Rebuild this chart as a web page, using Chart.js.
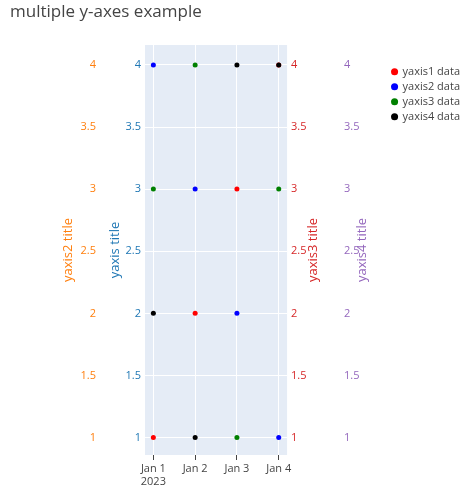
<!DOCTYPE html>
<html>
<head>
<meta charset="utf-8">
<script src="https://cdn.jsdelivr.net/npm/chart.js@4/dist/chart.umd.min.js"></script>
<style>
  html, body { margin: 0; padding: 0; background: #fff; }
  #wrap { width: 474px; height: 490px; }
</style>
</head>
<body>
<div id="wrap"><canvas id="chart"></canvas></div>
<script>
"use strict";

const dates = ['Jan 1', 'Jan 2', 'Jan 3', 'Jan 4'];
const yaxis1Data = [1, 2, 3, 4];
const yaxis2Data = [4, 3, 2, 1];
const yaxis3Data = [3, 4, 1, 3];
const yaxis4Data = [2, 1, 4, 4];
const yTicks = [1, 1.5, 2, 2.5, 3, 3.5, 4];

const FONT = '"Open Sans", "Liberation Sans", sans-serif';
const axisColors = {
    y: '#1f77b4',
    y2: '#ff7f0e',
    y3: '#d62728',
    y4: '#9467bd'
};
const axisTitles = {
    y: 'yaxis title',
    y2: 'yaxis2 title',
    y3: 'yaxis3 title',
    y4: 'yaxis4 title'
};

const toPoints = (values) => values.map((v, i) => ({x: i, y: v}));

const plotBackground = {
    id: 'plotBackground',
    beforeDraw: (chart) => {
        const {ctx, chartArea: a} = chart;
        ctx.save();
        ctx.fillStyle = '#e5ecf6';
        ctx.fillRect(a.left, a.top, a.right - a.left, a.bottom - a.top);
        ctx.restore();
    }
};

// plotly style title and axis titles (all reading bottom-up)
const textLayer = {
    id: 'textLayer',
    afterDraw: (chart) => {
        const ctx = chart.ctx;
        ctx.save();
        ctx.fillStyle = '#444';
        ctx.font = '17px ' + FONT;
        ctx.textBaseline = 'top';
        ctx.textAlign = 'left';
        ctx.fillText('multiple y-axes example', 10, 4);
        const midY = (chart.chartArea.top + chart.chartArea.bottom) / 2;
        const xs = {
            y: chart.scales.y.right - 30,
            y2: chart.scales.y2.right - 32,
            y3: chart.scales.y3.left + 26,
            y4: chart.scales.y4.left + 22
        };
        ctx.font = '13px ' + FONT;
        ctx.textAlign = 'center';
        ctx.textBaseline = 'middle';
        Object.keys(xs).forEach((id) => {
            ctx.save();
            ctx.translate(xs[id], midY);
            ctx.rotate(-Math.PI / 2);
            ctx.fillStyle = axisColors[id];
            ctx.fillText(axisTitles[id], 0, 0);
            ctx.restore();
        });
        ctx.restore();
    }
};

const yAxis = (id, position, width, showGrid) => ({
    type: 'linear',
    position: position,
    min: 0.86,
    max: 4.16,
    afterBuildTicks: (scale) => {
        scale.ticks = yTicks.map(v => ({value: v}));
    },
    afterFit: (scale) => {
        scale.width = width;
    },
    grid: {display: showGrid, color: '#fff', lineWidth: 1, drawTicks: false},
    border: {display: false},
    ticks: {
        color: axisColors[id],
        font: {family: FONT, size: 11},
        padding: 4,
        callback: (v) => String(v)
    }
});

new Chart(document.getElementById('chart'), {
    type: 'scatter',
    plugins: [plotBackground, textLayer],
    data: {
        datasets: [
            {label: 'yaxis1 data', data: toPoints(yaxis1Data), yAxisID: 'y', order: 4, backgroundColor: 'red', borderColor: 'red'},
            {label: 'yaxis2 data', data: toPoints(yaxis2Data), yAxisID: 'y2', order: 3, backgroundColor: 'blue', borderColor: 'blue'},
            {label: 'yaxis3 data', data: toPoints(yaxis3Data), yAxisID: 'y3', order: 2, backgroundColor: 'green', borderColor: 'green'},
            {label: 'yaxis4 data', data: toPoints(yaxis4Data), yAxisID: 'y4', order: 1, backgroundColor: 'black', borderColor: 'black'}
        ]
    },
    options: {
        responsive: true,
        maintainAspectRatio: false,
        animation: false,
        layout: {padding: {top: 45, left: 0, right: 4, bottom: 0}},
        elements: {point: {radius: 2.5, borderWidth: 0, hoverRadius: 3}},
        plugins: {
            tooltip: {enabled: false},
            legend: {
                position: 'right',
                align: 'start',
                maxWidth: 140,
                labels: {
                    usePointStyle: true,
                    pointStyle: 'circle',
                    boxWidth: 5,
                    boxHeight: 5,
                    padding: 4,
                    color: '#444',
                    font: {family: FONT, size: 11},
                    sort: (a, b) => a.datasetIndex - b.datasetIndex
                },
                title: {display: true, text: ' ', padding: 2, font: {size: 11}}
            }
        },
        scales: {
            x: {
                type: 'linear',
                min: -0.2,
                max: 3.2,
                afterBuildTicks: (scale) => {
                    scale.ticks = dates.map((d, i) => ({value: i}));
                },
                afterFit: (scale) => {
                    scale.height = 35;
                },
                grid: {color: '#fff', drawTicks: true, tickLength: 5, tickColor: '#444'},
                border: {display: false},
                ticks: {
                    color: '#444',
                    font: {family: FONT, size: 11},
                    maxRotation: 0,
                    padding: 2,
                    callback: (v) => (v === 0 ? [dates[0], '2023'] : dates[v])
                }
            },
            y: yAxis('y', 'left', 45, true),
            y2: yAxis('y2', 'left', 100, false),
            y3: yAxis('y3', 'right', 53, false),
            y4: yAxis('y4', 'right', 48, false)
        }
    }
});
</script>
</body>
</html>
